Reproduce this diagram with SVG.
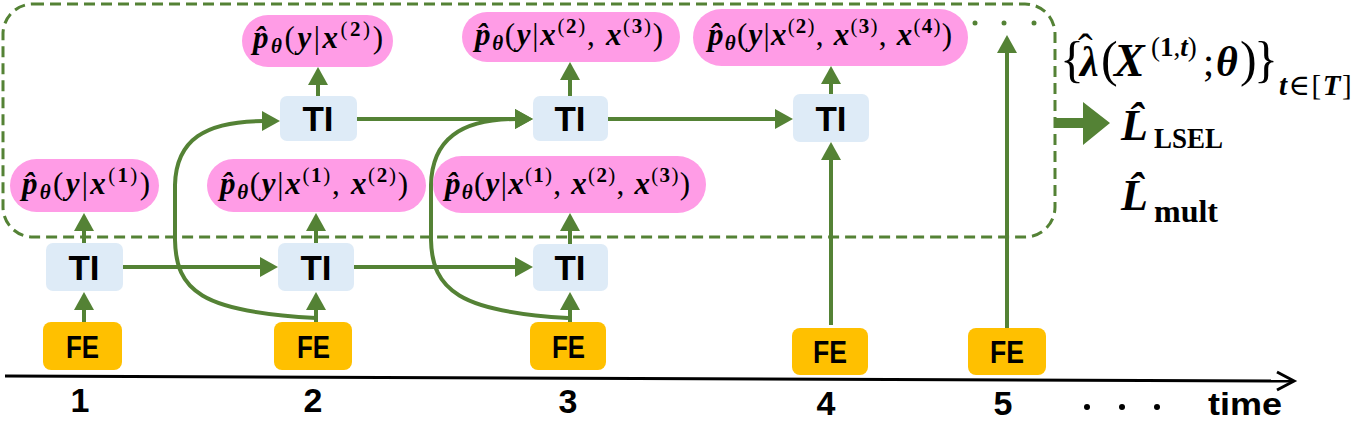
<svg xmlns="http://www.w3.org/2000/svg" width="1359" height="423" viewBox="0 0 1359 423">
<style>
.c{stroke:#548235;stroke-width:4;fill:none;marker-end:url(#ah)}
.ti{fill:#DEEBF7}
.fe{fill:#FFC000}
.pill{fill:#FF9CE6}
.lbl{font-family:"Liberation Sans",Arial,sans-serif;font-weight:bold;font-size:35px;text-anchor:middle;fill:#000}
.fet{font-family:"Liberation Sans",Arial,sans-serif;font-weight:bold;font-size:32px;fill:#000}
.num{font-family:"Liberation Sans",Arial,sans-serif;font-weight:bold;font-size:34px;text-anchor:middle;fill:#000}
.m{font-family:"Liberation Serif","DejaVu Serif",serif;font-size:31px;fill:#000}
.bi{font-weight:bold;font-style:italic}
.b{font-weight:bold}
.sm{font-size:21px}
</style>
<defs>
<marker id="ah" viewBox="0 0 4.5 5" refX="0.5" refY="2.5" markerWidth="4.5" markerHeight="5" orient="auto" markerUnits="strokeWidth">
<path d="M0,0 L4.5,2.5 L0,5 z" fill="#548235"/>
</marker>
</defs>

<g id="frame">
<rect x="3" y="4" width="1052" height="233" rx="30" ry="30" fill="none" stroke="#548235" stroke-width="3" stroke-dasharray="11 6"/>
</g>

<g id="timeline">
<line x1="5" y1="376" x2="1293" y2="381" stroke="#000" stroke-width="3"/>
<polyline points="1277,372 1294,381 1277,390" fill="none" stroke="#000" stroke-width="3"/>
<text class="num" x="80" y="412">1</text>
<text class="num" x="313" y="412">2</text>
<text class="num" x="568" y="413">3</text>
<text class="num" x="826" y="415">4</text>
<text class="num" x="1003" y="415">5</text>
<circle cx="1087" cy="407" r="3"/>
<circle cx="1122" cy="407" r="3"/>
<circle cx="1157" cy="407" r="3"/>
<text class="fet" x="1208" y="415" font-size="33" textLength="74" lengthAdjust="spacingAndGlyphs">time</text>
</g>

<g id="connectors">
<path class="c" d="M84,322 V308"/>
<path class="c" d="M84,243 V229"/>
<path class="c" d="M123,267 H262"/>
<path class="c" d="M316,322 V308"/>
<path class="c" d="M316,243 V229"/>
<path class="c" d="M354,267 H517"/>
<path class="c" d="M570,322 V308"/>
<path class="c" d="M570,244 V229"/>
<path class="c" d="M316,318 C200,312 176,290 175,240 L175,185 C176,140 205,121 264,121"/>
<path class="c" d="M318,96 V83"/>
<path class="c" d="M357,119 H517"/>
<path class="c" d="M568,318 C460,312 432,290 431,240 L431,185 C432,140 460,119 517,119"/>
<path class="c" d="M570,96 V78"/>
<path class="c" d="M608,119 H777"/>
<path class="c" d="M831,94 V82"/>
<path class="c" d="M831,325 V158"/>
<path class="c" d="M1007,330 V51"/>
<circle cx="975" cy="23" r="2.5" fill="#548235"/>
<circle cx="1004" cy="23" r="2.5" fill="#548235"/>
<circle cx="1034" cy="23" r="2.5" fill="#548235"/>
<polygon points="1055,118 1083,118 1083,102 1110,123 1083,145 1083,128 1055,128" fill="#548235"/>
</g>

<g id="fe1"><rect class="fe" x="43" y="322" width="79" height="48" rx="8"/><text class="fet" x="66" y="358" textLength="33" lengthAdjust="spacingAndGlyphs">FE</text></g>
<g id="fe2"><rect class="fe" x="274" y="322" width="78" height="48" rx="8"/><text class="fet" x="297" y="358" textLength="33" lengthAdjust="spacingAndGlyphs">FE</text></g>
<g id="fe3"><rect class="fe" x="530" y="322" width="76" height="48" rx="8"/><text class="fet" x="552" y="358" textLength="33" lengthAdjust="spacingAndGlyphs">FE</text></g>
<g id="fe4"><rect class="fe" x="792" y="328" width="76" height="47" rx="8"/><text class="fet" x="813" y="363" textLength="34" lengthAdjust="spacingAndGlyphs">FE</text></g>
<g id="fe5"><rect class="fe" x="968" y="328" width="78" height="47" rx="8"/><text class="fet" x="990" y="363" textLength="34" lengthAdjust="spacingAndGlyphs">FE</text></g>

<g id="ti1"><rect class="ti" x="46" y="243" width="77" height="48" rx="7"/><text class="lbl" x="84" y="280">TI</text></g>
<g id="ti2"><rect class="ti" x="278" y="243" width="76" height="48" rx="7"/><text class="lbl" x="316" y="280">TI</text></g>
<g id="ti3"><rect class="ti" x="533" y="244" width="75" height="47" rx="7"/><text class="lbl" x="570" y="280">TI</text></g>
<g id="ti2u"><rect class="ti" x="280" y="96" width="77" height="45" rx="7"/><text class="lbl" x="318" y="131">TI</text></g>
<g id="ti3u"><rect class="ti" x="533" y="96" width="75" height="45" rx="7"/><text class="lbl" x="570" y="131">TI</text></g>
<g id="ti4u"><rect class="ti" x="793" y="94" width="76" height="48" rx="7"/><text class="lbl" x="831" y="131">TI</text></g>

<g id="p1"><rect class="pill" x="10" y="159" width="149" height="53" rx="26.5"/><text class="m" x="22" y="194" textLength="128" lengthAdjust="spacing"><tspan class="bi">p̂</tspan><tspan class="bi sm" dy="5">θ</tspan><tspan dy="-5">(</tspan><tspan class="bi">y</tspan>|<tspan class="bi">x</tspan><tspan class="sm" dy="-12">(<tspan class="b">1</tspan>)</tspan><tspan dy="12">)</tspan></text></g>

<g id="p12"><rect class="pill" x="207" y="159" width="219" height="53" rx="26.5"/><text class="m" x="220" y="194" textLength="188" lengthAdjust="spacing"><tspan class="bi">p̂</tspan><tspan class="bi sm" dy="5">θ</tspan><tspan dy="-5">(</tspan><tspan class="bi">y</tspan>|<tspan class="bi">x</tspan><tspan class="sm" dy="-12">(<tspan class="b">1</tspan>)</tspan><tspan dy="12">, </tspan><tspan class="bi">x</tspan><tspan class="sm" dy="-12">(<tspan class="b">2</tspan>)</tspan><tspan dy="12">)</tspan></text></g>

<g id="p123"><rect class="pill" x="433" y="156" width="273" height="57" rx="28.5"/><text class="m" x="445" y="194" textLength="245" lengthAdjust="spacing"><tspan class="bi">p̂</tspan><tspan class="bi sm" dy="5">θ</tspan><tspan dy="-5">(</tspan><tspan class="bi">y</tspan>|<tspan class="bi">x</tspan><tspan class="sm" dy="-12">(<tspan class="b">1</tspan>)</tspan><tspan dy="12">, </tspan><tspan class="bi">x</tspan><tspan class="sm" dy="-12">(<tspan class="b">2</tspan>)</tspan><tspan dy="12">, </tspan><tspan class="bi">x</tspan><tspan class="sm" dy="-12">(<tspan class="b">3</tspan>)</tspan><tspan dy="12">)</tspan></text></g>

<g id="p2"><rect class="pill" x="242" y="15" width="151" height="52" rx="26"/><text class="m" x="253" y="48" textLength="130" lengthAdjust="spacing"><tspan class="bi">p̂</tspan><tspan class="bi sm" dy="5">θ</tspan><tspan dy="-5">(</tspan><tspan class="bi">y</tspan>|<tspan class="bi">x</tspan><tspan class="sm" dy="-12">(<tspan class="b">2</tspan>)</tspan><tspan dy="12">)</tspan></text></g>

<g id="p23"><rect class="pill" x="462" y="12" width="218" height="50" rx="25"/><text class="m" x="475" y="45" textLength="188" lengthAdjust="spacing"><tspan class="bi">p̂</tspan><tspan class="bi sm" dy="5">θ</tspan><tspan dy="-5">(</tspan><tspan class="bi">y</tspan>|<tspan class="bi">x</tspan><tspan class="sm" dy="-12">(<tspan class="b">2</tspan>)</tspan><tspan dy="12">, </tspan><tspan class="bi">x</tspan><tspan class="sm" dy="-12">(<tspan class="b">3</tspan>)</tspan><tspan dy="12">)</tspan></text></g>

<g id="p234"><rect class="pill" x="693" y="9" width="275" height="57" rx="28.5"/><text class="m" x="708" y="45" textLength="244" lengthAdjust="spacing"><tspan class="bi">p̂</tspan><tspan class="bi sm" dy="5">θ</tspan><tspan dy="-5">(</tspan><tspan class="bi">y</tspan>|<tspan class="bi">x</tspan><tspan class="sm" dy="-12">(<tspan class="b">2</tspan>)</tspan><tspan dy="12">, </tspan><tspan class="bi">x</tspan><tspan class="sm" dy="-12">(<tspan class="b">3</tspan>)</tspan><tspan dy="12">, </tspan><tspan class="bi">x</tspan><tspan class="sm" dy="-12">(<tspan class="b">4</tspan>)</tspan><tspan dy="12">)</tspan></text></g>

<g id="lambda-set"><text class="m" y="76"><tspan x="1060" font-size="50">{</tspan><tspan x="1080" class="bi" font-size="42">λ</tspan><tspan x="1078" dy="-12" font-size="44">ˆ</tspan><tspan x="1101" dy="12" font-size="50">(</tspan><tspan x="1114" class="bi" font-size="46">X</tspan><tspan x="1151" dy="-20" font-size="27">(<tspan class="b">1</tspan>,<tspan class="bi">t</tspan>)</tspan><tspan x="1203" dy="20" font-size="40">;</tspan><tspan x="1216" class="bi" font-size="42">θ</tspan><tspan x="1240" font-size="50">)</tspan><tspan x="1254" font-size="50">}</tspan><tspan x="1279" dy="19" font-size="29" letter-spacing="1.5"><tspan class="bi">t</tspan>∈[<tspan class="bi">T</tspan>]</tspan></text></g>

<g id="loss-lsel"><text class="m" y="140"><tspan x="1121" class="bi" font-size="44">L̂</tspan><tspan x="1154" dy="8" class="b" font-size="30" textLength="69" lengthAdjust="spacingAndGlyphs">LSEL</tspan></text></g>
<g id="loss-mult"><text class="m" y="210"><tspan x="1121" class="bi" font-size="44">L̂</tspan><tspan x="1154" dy="12" class="b" font-size="32">mult</tspan></text></g>
</svg>
